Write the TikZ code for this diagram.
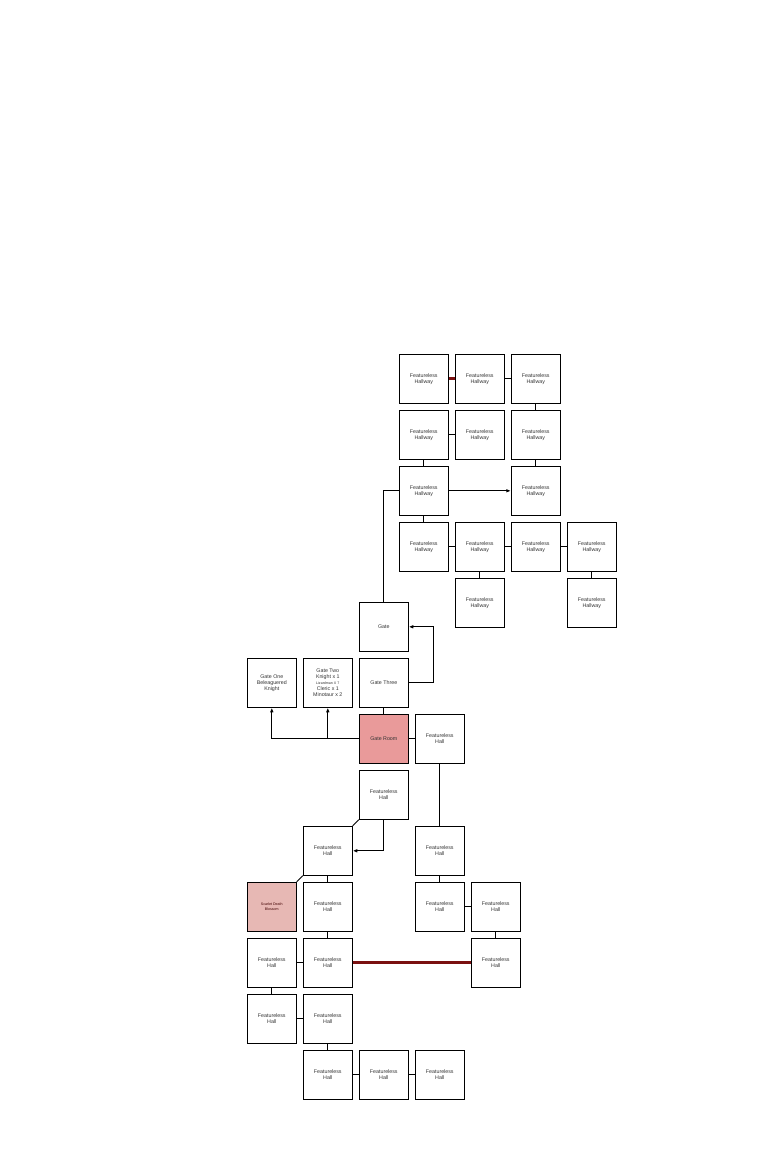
\documentclass[tikz,border=0pt]{standalone}
\usepackage{fontspec}
\setmainfont{Liberation Sans}
\usetikzlibrary{arrows.meta}
\definecolor{txt}{HTML}{333333}
\definecolor{roomfill}{HTML}{E99A9A}
\definecolor{scarfill}{HTML}{E7B8B4}
\definecolor{maroon}{HTML}{7A1010}
\tikzset{
  room/.style={draw=black, line width=0.9pt, rectangle, minimum width=49pt, minimum height=49pt,
    inner sep=0pt, align=center, text=txt, font=\fontsize{5.3}{6}\selectfont},
  link/.style={draw=black, line width=0.9pt},
  arr/.style={link, -{Latex[length=4.5pt,width=3.6pt]}},
  thick link/.style={draw=maroon, line width=3pt},
}
\begin{document}
\begin{tikzpicture}[x=1pt,y=-1pt]
\useasboundingbox (0,0) rectangle (768,1152);
% upper hallway section
\node[room] (t00) at (423.8,378.8) {Featureless\\Hallway};
\node[room] (t01) at (479.8,378.8) {Featureless\\Hallway};
\node[room] (t02) at (535.8,378.8) {Featureless\\Hallway};
\node[room] (t10) at (423.8,434.8) {Featureless\\Hallway};
\node[room] (t11) at (479.8,434.8) {Featureless\\Hallway};
\node[room] (t12) at (535.8,434.8) {Featureless\\Hallway};
\node[room] (t20) at (423.8,490.8) {Featureless\\Hallway};
\node[room] (t22) at (535.8,490.8) {Featureless\\Hallway};
\node[room] (t30) at (423.8,546.8) {Featureless\\Hallway};
\node[room] (t31) at (479.8,546.8) {Featureless\\Hallway};
\node[room] (t32) at (535.8,546.8) {Featureless\\Hallway};
\node[room] (t33) at (591.8,546.8) {Featureless\\Hallway};
\node[room] (t41) at (479.8,602.8) {Featureless\\Hallway};
\node[room] (t43) at (591.8,602.8) {Featureless\\Hallway};
% gates
\node[room] (gate) at (383.8,626.8) {Gate};
\node[room] (gthree) at (383.8,682.8) {Gate Three};
\node[room] (gone) at (271.8,682.8) {Gate One\\Beleaguered\\Knight};
\node[room] (gtwo) at (327.8,682.8) {Gate Two\\Knight x 1\\{\fontsize{3.6}{6}\selectfont Lizardman X 7}\\Cleric x 1\\Minotaur x 2};
\node[room, fill=roomfill] (groom) at (383.8,738.8) {Gate Room};
\node[room] (hr) at (439.8,738.8) {Featureless\\Hall};
% lower hall section
\node[room] (hb) at (383.8,794.8) {Featureless\\Hall};
\node[room] (h1) at (327.8,850.8) {Featureless\\Hall};
\node[room] (h2) at (439.8,850.8) {Featureless\\Hall};
\node[room, fill=scarfill, text=black!75!red, font=\fontsize{3.6}{4.6}\selectfont] (scar) at (271.8,906.8) {Scarlet Death\\Blossom};
\node[room] (h3) at (327.8,906.8) {Featureless\\Hall};
\node[room] (h4) at (439.8,906.8) {Featureless\\Hall};
\node[room] (h5) at (495.8,906.8) {Featureless\\Hall};
\node[room] (h6) at (271.8,962.8) {Featureless\\Hall};
\node[room] (h7) at (327.8,962.8) {Featureless\\Hall};
\node[room] (h8) at (495.8,962.8) {Featureless\\Hall};
\node[room] (h9) at (271.8,1018.8) {Featureless\\Hall};
\node[room] (h10) at (327.8,1018.8) {Featureless\\Hall};
\node[room] (h11) at (327.8,1074.8) {Featureless\\Hall};
\node[room] (h12) at (383.8,1074.8) {Featureless\\Hall};
\node[room] (h13) at (439.8,1074.8) {Featureless\\Hall};
% upper connectors
\draw[thick link] (t00) -- (t01);
\draw[link] (t01) -- (t02);
\draw[link] (t02) -- (t12);
\draw[link] (t10) -- (t11);
\draw[link] (t10) -- (t20);
\draw[link] (t12) -- (t22);
\draw[arr] (t20) -- (t22);
\draw[link] (t20) -- (t30);
\draw[link] (t30) -- (t31);
\draw[link] (t31) -- (t32);
\draw[link] (t32) -- (t33);
\draw[link] (t31) -- (t41);
\draw[link] (t33) -- (t43);
% gates
\draw[link] (gate.north) |- (t20.west);
\draw[arr] (gthree.east) -- ++(25,0) |- (gate.east);
\draw[link] (groom) -- (gthree);
\draw[arr] (groom.west) -| (gone.south);
\draw[arr] (gtwo.south |- groom.west) -- (gtwo.south);
\draw[link] (groom) -- (hr);
\draw[link] (hr) -- (h2);
% lower connectors
\draw[arr] (hb.south) |- (h1.east);
\draw[link] (hb) -- (h1);
\draw[link] (h1) -- (scar);
\draw[link] (h1) -- (h3);
\draw[link] (h3) -- (h7);
\draw[link] (h2) -- (h4);
\draw[link] (h4) -- (h5);
\draw[link] (h5) -- (h8);
\draw[link] (h6) -- (h7);
\draw[thick link] (h7) -- (h8);
\draw[link] (h6) -- (h9);
\draw[link] (h9) -- (h10);
\draw[link] (h10) -- (h11);
\draw[link] (h11) -- (h12);
\draw[link] (h12) -- (h13);
\end{tikzpicture}
\end{document}
